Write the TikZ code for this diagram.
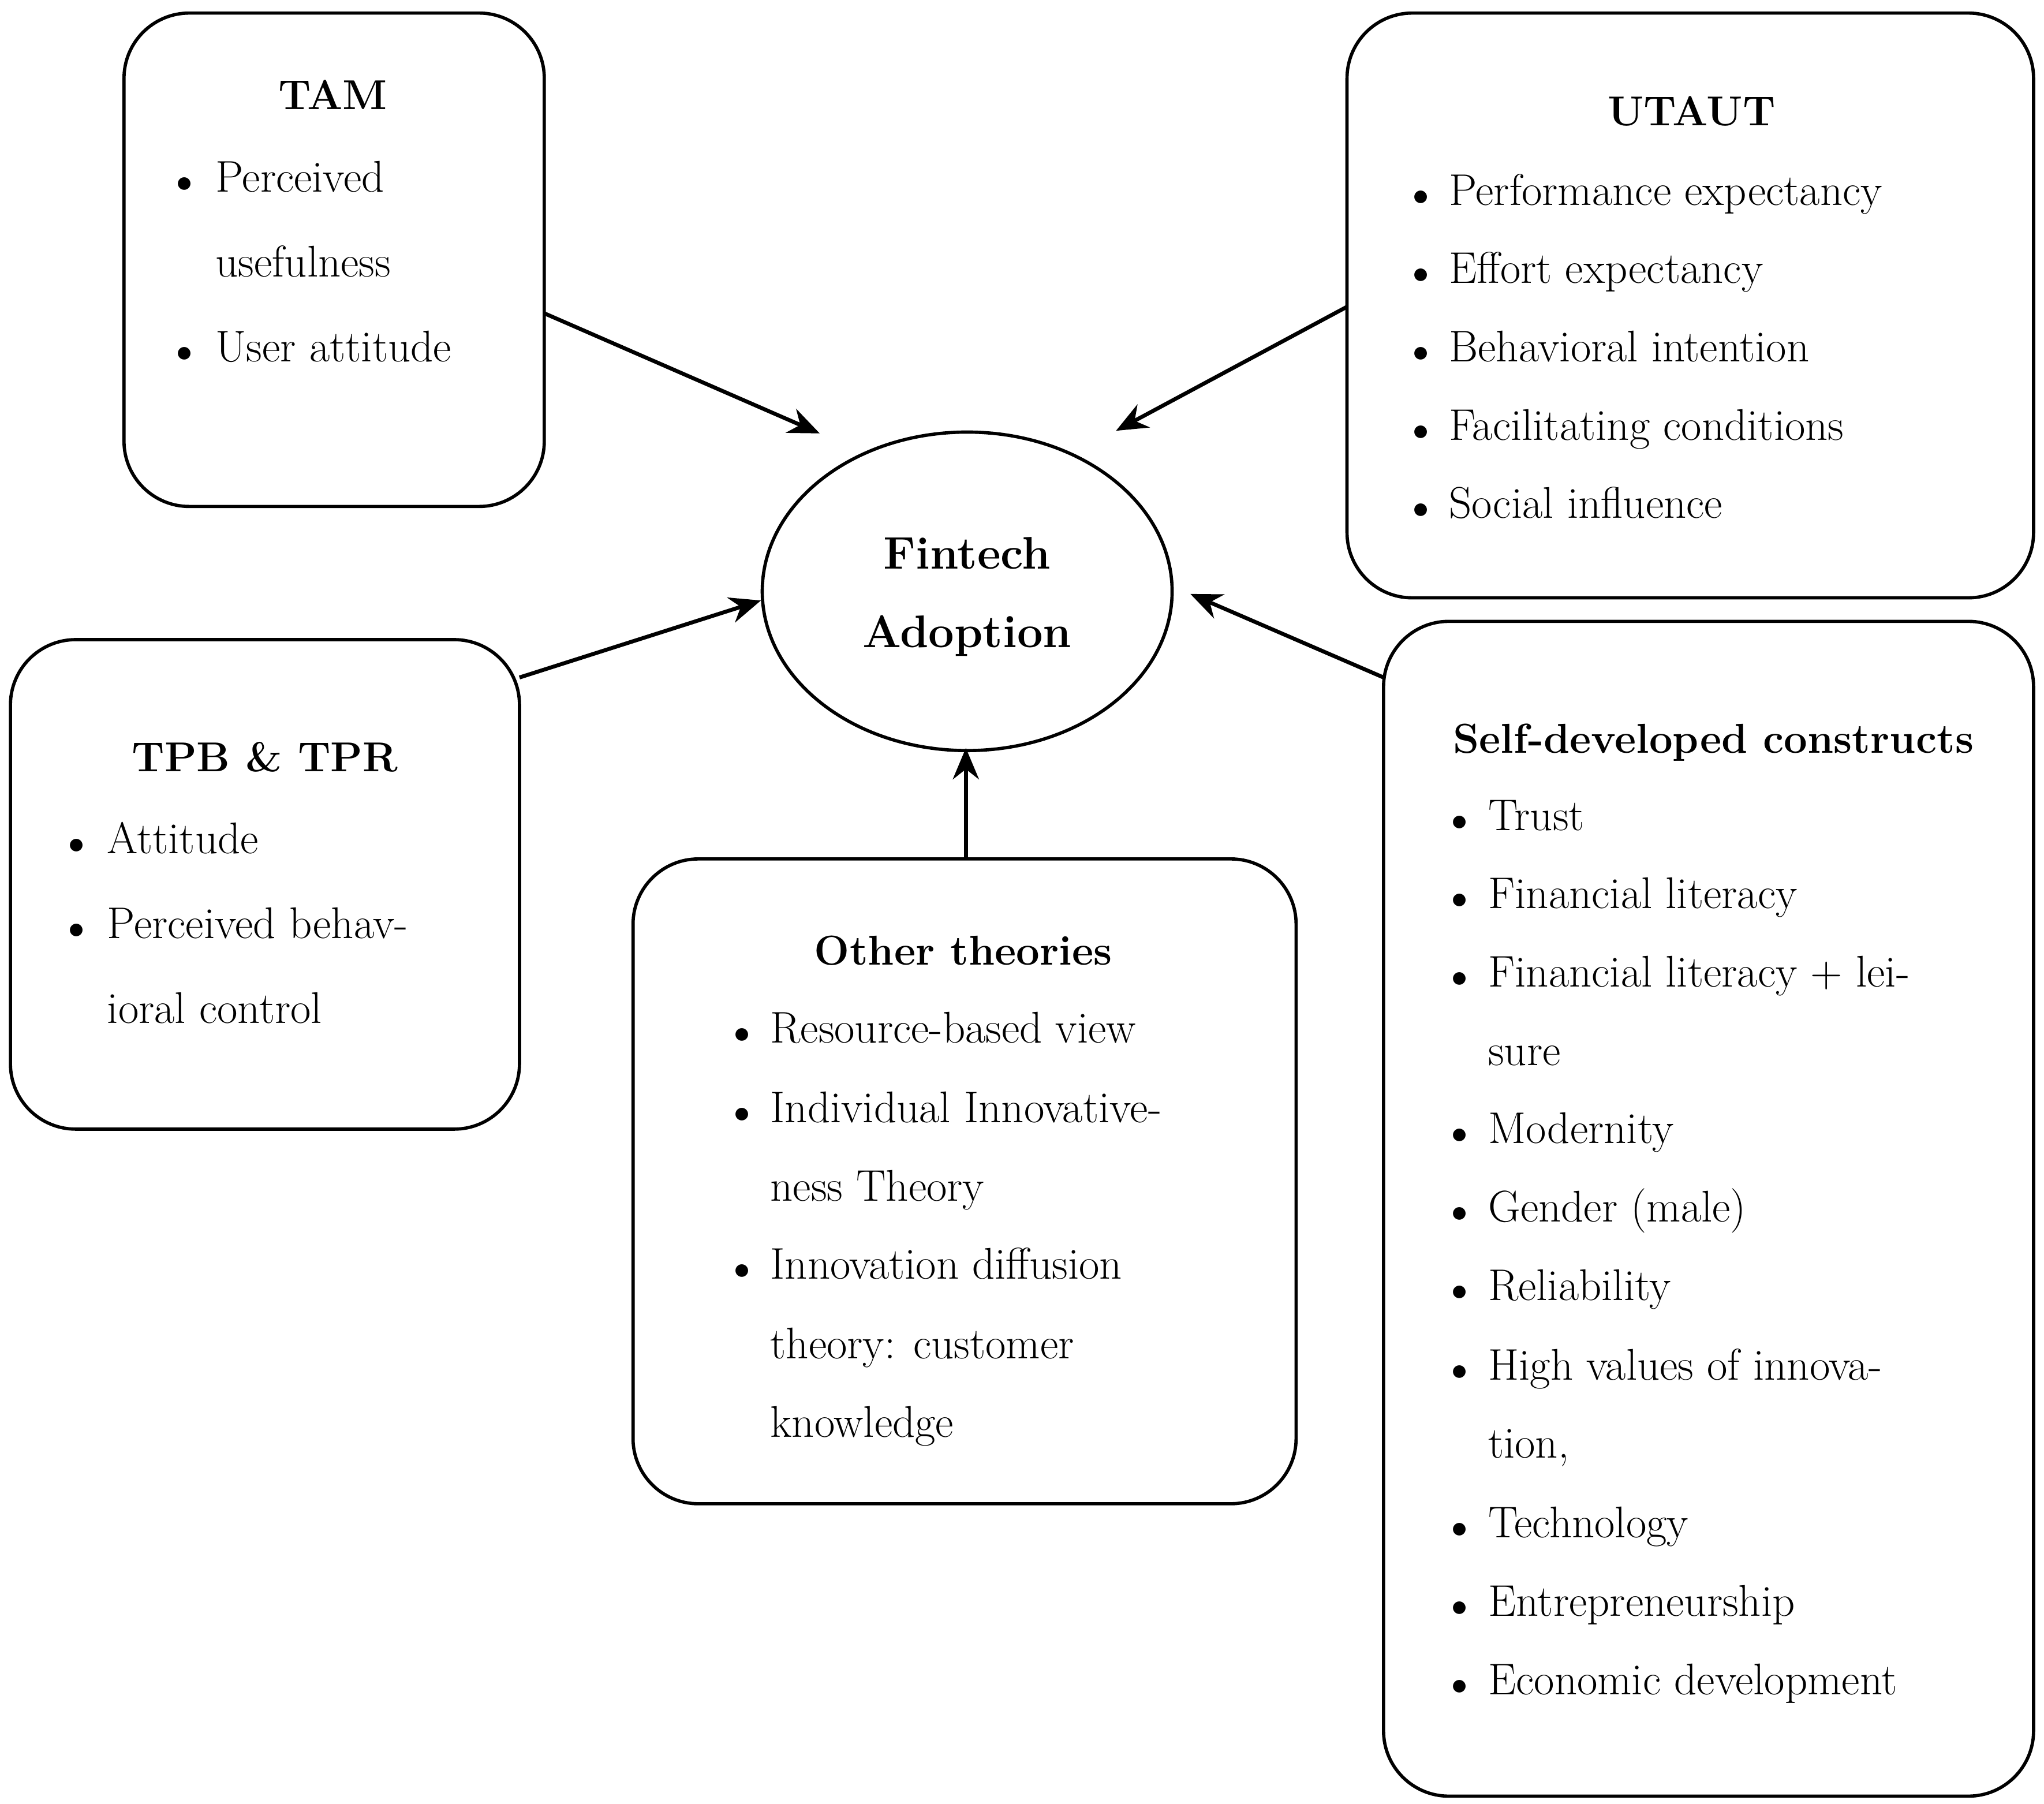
\documentclass[tikz,border=0pt]{standalone}
\usetikzlibrary{shapes.geometric,arrows.meta}
\begin{document}
\begin{tikzpicture}[x=1pt,y=-1pt,
  box/.style={draw,line width=2.5pt,rounded corners=50pt},
  txt/.style={anchor=base west,inner sep=0pt,font=\fontsize{34}{40}\selectfont},
  ttl/.style={anchor=base,inner sep=0pt,font=\fontsize{32}{36}\selectfont\bfseries},
  arr/.style={line width=3pt,-{Stealth[length=24pt,width=20pt]}}]
\newcommand\itm[5]{\node[txt] (#1b) at (#2,#4) {$\bullet$}; \node[txt] (#1) at (#3,#4) {#5};}
\newcommand\cnt[4]{\node[txt] (#1) at (#2,#3) {#4};}
\useasboundingbox (0,0) rectangle (1566,1382);
\draw[box] (95,10) rectangle (417,388);
\draw[box] (1032,10) rectangle (1558,458);
\draw[box] (8,490) rectangle (398,865);
\draw[box] (485,658) rectangle (993,1152);
\draw[box] (1060,476) rectangle (1558,1376);
\node[draw,ellipse,line width=2.5pt,minimum width=314pt,minimum height=244pt] (fa) at (741,453) {};
\node[ttl,font=\fontsize{35}{40}\selectfont\bfseries] (fa1) at (741,436) {Fintech};
\node[ttl,font=\fontsize{35}{40}\selectfont\bfseries] (fa2) at (741,496) {Adoption};
% TAM
\node[ttl] (tam) at (255,84) {TAM};
\itm{a1}{135}{165}{147}{Perceived}
\cnt{a2}{165}{212}{usefulness}
\itm{a3}{135}{165}{277}{User attitude}
% UTAUT
\node[ttl] (ut) at (1296,96) {UTAUT};
\itm{u1}{1082}{1110}{157}{Performance expectancy}
\itm{u2}{1082}{1110}{217}{Effort expectancy}
\itm{u3}{1082}{1110}{277}{Behavioral intention}
\itm{u4}{1082}{1110}{337}{Facilitating conditions}
\itm{u5}{1082}{1110}{397}{Social influence}
% TPB
\node[ttl] (tp) at (203,591) {TPB \& TPR};
\itm{p1}{52}{82}{654}{Attitude}
\itm{p2}{52}{82}{719}{Perceived behav-}
\cnt{p3}{82}{784}{ioral control}
% Other
\node[ttl] (ot) at (738,739) {Other theories};
\itm{o1}{562}{590}{799}{Resource-based view}
\itm{o2}{562}{590}{860}{Individual Innovative-}
\cnt{o3}{590}{920}{ness Theory}
\itm{o4}{562}{590}{980}{Innovation diffusion}
\cnt{o5}{590}{1041}{theory: customer}
\cnt{o6}{590}{1101}{knowledge}
% Self
\node[txt,font=\fontsize{32}{36}\selectfont\bfseries] (sd) at (1113,577) {Self-developed constructs};
\itm{s1}{1112}{1140}{636}{Trust}
\itm{s2}{1112}{1140}{696}{Financial literacy}
\itm{s3}{1112}{1140}{756}{Financial literacy + lei-}
\cnt{s4}{1140}{816}{sure}
\itm{s5}{1112}{1140}{876}{Modernity}
\itm{s6}{1112}{1140}{936}{Gender (male)}
\itm{s7}{1112}{1140}{996}{Reliability}
\itm{s8}{1112}{1140}{1057}{High values of innova-}
\cnt{s9}{1140}{1117}{tion,}
\itm{s10}{1112}{1140}{1178}{Technology}
\itm{s11}{1112}{1140}{1238}{Entrepreneurship}
\itm{s12}{1112}{1140}{1298}{Economic development}
% arrows
\coordinate (c1) at (417,240); \coordinate (e1) at (628,332);
\coordinate (c2) at (1032,235); \coordinate (e2) at (855,330);
\coordinate (c3) at (398,519); \coordinate (e3) at (583,460);
\coordinate (c4) at (1060,519); \coordinate (e4) at (912,455);
\coordinate (c5) at (740,658); \coordinate (e5) at (740,573);
\draw[arr] (c1) -- (e1);
\draw[arr] (c2) -- (e2);
\draw[arr] (c3) -- (e3);
\draw[arr] (c4) -- (e4);
\draw[arr] (c5) -- (e5);
\end{tikzpicture}
\end{document}
